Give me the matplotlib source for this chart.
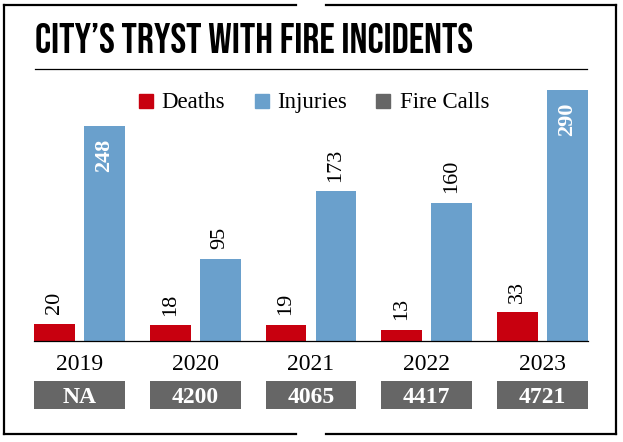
import matplotlib
matplotlib.use("Agg")
import matplotlib.pyplot as plt
from matplotlib import font_manager
from matplotlib.lines import Line2D
from matplotlib.patches import Rectangle
from matplotlib.transforms import Affine2D

# values
years = ['2019', '2020', '2021', '2022', '2023']
deaths = [20, 18, 19, 13, 33]
injuries = [248, 95, 173, 160, 290]
fire_calls = ['NA', '4200', '4065', '4417', '4721']

RED = '#c8000f'
BLUE = '#6aa0cc'
GRAY = '#666666'

W, H = 623, 442
SERIF = ['Liberation Serif', 'DejaVu Serif']

# pick a tall condensed sans for the headline if one is installed
names = {f.name for f in font_manager.fontManager.ttflist}
TITLE_FONT = ['DejaVu Sans']
TITLE_WEIGHT = 'bold'
for cand, wt in [('Bebas Neue', 'normal'), ('Fjalla One', 'normal'),
                 ('Barlow Condensed', 800), ('Asap Condensed', 'bold'),
                 ('Roboto Condensed', 'bold'), ('Liberation Sans Narrow', 'bold')]:
    if cand in names:
        TITLE_FONT = [cand, 'DejaVu Sans']
        TITLE_WEIGHT = wt
        break


def main():
    fig = plt.figure(figsize=(W / 100, H / 100), dpi=100)
    # transform in image pixels, origin top-left
    pix = Affine2D().scale(1 / W, -1 / H).translate(0, 1) + fig.transFigure

    # outer frame with gaps at top and bottom centre
    frame = [((4, 296), (5, 5)), ((326, 616), (5, 5)),
             ((4, 296), (434, 434)), ((326, 616), (434, 434)),
             ((4, 4), (5, 434)), ((616, 616), (5, 434))]
    for xs, ys in frame:
        fig.add_artist(Line2D(xs, ys, transform=pix, color='black', lw=1.6,
                              solid_capstyle='projecting'))

    # title, sized to span the same width as the original
    title = fig.text(35, 53, 'CITY’S TRYST WITH FIRE INCIDENTS', transform=pix,
                     family=TITLE_FONT, weight=TITLE_WEIGHT, fontsize=22,
                     va='baseline', ha='left', color='black')
    fig.canvas.draw()
    tw = title.get_window_extent().width
    title.set_fontsize(22 * 437 / tw)
    fig.add_artist(Line2D((35, 587), (69, 69), transform=pix, color='black', lw=0.9))

    # bars
    px_per_unit = 251 / 290
    base_y, top_y = 341, 70
    ax = fig.add_axes([34 / W, (H - base_y) / H, 554 / W, (base_y - top_y) / H])
    ax.set_ylim(0, (base_y - top_y) / px_per_unit)
    ax.set_xlim(-0.392, 4.392)
    for s in ['top', 'right', 'left']:
        ax.spines[s].set_visible(False)
    ax.spines['bottom'].set_linewidth(0.9)
    ax.set_xticks([])
    ax.set_yticks([])
    ax.patch.set_alpha(0)

    x = list(range(len(years)))
    off, bw = 0.2155, 0.353
    xd = [i - off for i in x]
    xi = [i + off for i in x]
    ax.bar(xd, deaths, width=bw, color=RED, zorder=2)
    ax.bar(xi, injuries, width=bw, color=BLUE, zorder=2)

    for xx, v in zip(xd, deaths):
        ax.annotate(str(v), (xx, v), xytext=(0, 7), textcoords='offset points',
                    rotation=90, ha='center', va='bottom', fontsize=16,
                    family=SERIF, color='black')
    for xx, v in zip(xi, injuries):
        if v > 200:
            # tall bars carry their label inside, in white
            ax.annotate(str(v), (xx, v), xytext=(0, -9), textcoords='offset points',
                        rotation=90, ha='center', va='top', fontsize=16,
                        family=SERIF, weight='bold', color='white')
        else:
            ax.annotate(str(v), (xx, v), xytext=(0, 7), textcoords='offset points',
                        rotation=90, ha='center', va='bottom', fontsize=16,
                        family=SERIF, color='black')

    # year labels
    for i, yr in zip(x, years):
        ax.text(i, -(370 - base_y) / px_per_unit, yr, ha='center', va='baseline',
                fontsize=17, family=SERIF, color='black', clip_on=False)

    # fire calls boxes
    box_bottom = -(409 - base_y) / px_per_unit
    box_h = (409 - 381) / px_per_unit
    ax.bar(x, [box_h] * len(x), bottom=box_bottom, width=0.784,
           color=GRAY, clip_on=False)
    for i, fc in zip(x, fire_calls):
        ax.text(i, -(403 - base_y) / px_per_unit, fc, ha='center', va='baseline',
                fontsize=17, family=SERIF, weight='bold', color='white',
                clip_on=False)

    # legend
    legend_items = [(139, 161, 'Deaths', RED), (255, 277, 'Injuries', BLUE),
                    (376, 400, 'Fire Calls', GRAY)]
    for mx, tx, lab, col in legend_items:
        fig.add_artist(Rectangle((mx, 94), 14, 14, transform=pix, color=col))
        fig.text(tx, 108, lab, transform=pix, family=SERIF, fontsize=16.5,
                 va='baseline', ha='left', color='black')

    fig.savefig('out.png', dpi=100)


if __name__ == "__main__":
    main()
